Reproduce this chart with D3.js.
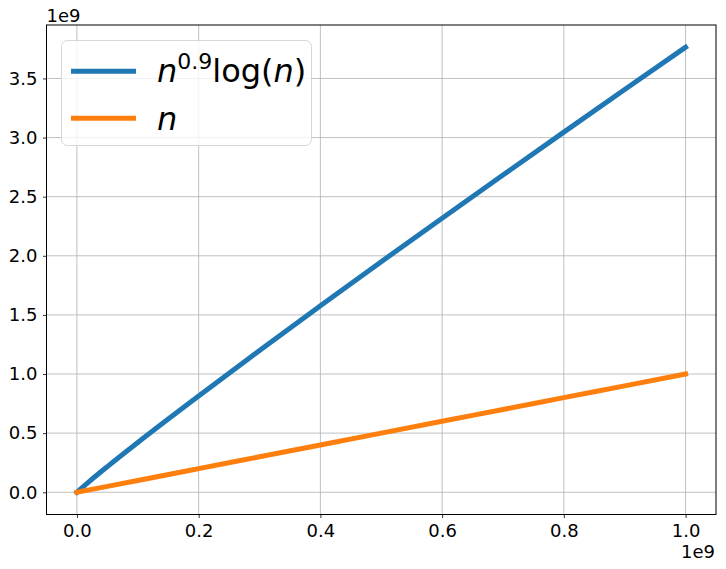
<!DOCTYPE html>
<html>
<head>
<meta charset="utf-8">
<script src="https://d3js.org/d3.v7.min.js"></script>
<style>
  body { margin: 0; background: #fff; }
  svg { font-family: "DejaVu Sans", sans-serif; }
</style>
</head>
<body>
<svg width="726" height="569"></svg>
<script>
// values (x in units of n, y in the same units)
var nValues      = [0, 0.01e9, 0.02e9, 0.05e9, 0.1e9, 0.2e9, 0.3e9, 0.4e9, 0.5e9, 0.6e9, 0.7e9, 0.8e9, 0.9e9, 1.0e9];
var nlognValues  = [0, 0.046e9, 0.090e9, 0.217e9, 0.421e9, 0.814e9, 1.200e9, 1.577e9, 1.950e9, 2.318e9, 2.683e9, 3.046e9, 3.406e9, 3.764e9];
var linearValues = [0, 0.01e9, 0.02e9, 0.05e9, 0.1e9, 0.2e9, 0.3e9, 0.4e9, 0.5e9, 0.6e9, 0.7e9, 0.8e9, 0.9e9, 1.0e9];

var xTicks = [0, 0.2e9, 0.4e9, 0.6e9, 0.8e9, 1.0e9];
var yTicks = [0, 0.5e9, 1.0e9, 1.5e9, 2.0e9, 2.5e9, 3.0e9, 3.5e9];

var seriesNames  = ["nlogn", "n"];
var seriesColors = ["#1f77b4", "#ff7f0e"];

var plotLeft = 46.5, plotRight = 716, plotTop = 25, plotBottom = 514.5;

var svg = d3.select("svg");

// matplotlib style 5% margins
var xMax = d3.max(nValues), yMax = d3.max(nlognValues);
var x = d3.scaleLinear().domain([-0.05 * xMax, 1.05 * xMax]).range([plotLeft, plotRight]);
var y = d3.scaleLinear().domain([-0.05 * yMax, 1.05 * yMax]).range([plotBottom, plotTop]);

// grid
var grid = svg.append("g").attr("stroke", "#b0b0b0").attr("stroke-width", 0.8);
grid.selectAll(".gx").data(xTicks).enter().append("line")
  .attr("x1", function(d) { return x(d); }).attr("x2", function(d) { return x(d); })
  .attr("y1", plotTop).attr("y2", plotBottom);
grid.selectAll(".gy").data(yTicks).enter().append("line")
  .attr("y1", function(d) { return y(d); }).attr("y2", function(d) { return y(d); })
  .attr("x1", plotLeft).attr("x2", plotRight);

// data lines
var line = d3.line()
  .x(function(d) { return x(d[0]); })
  .y(function(d) { return y(d[1]); })
  .curve(d3.curveMonotoneX);

var seriesData = [d3.zip(nValues, nlognValues), d3.zip(nValues, linearValues)];
svg.append("g").selectAll("path").data(seriesData).enter().append("path")
  .attr("d", line)
  .attr("fill", "none")
  .attr("stroke", function(d, i) { return seriesColors[i]; })
  .attr("stroke-width", 5)
  .attr("stroke-linecap", "square")
  .attr("stroke-linejoin", "round");

// axes
var fmt = d3.format(".1f");
var xAxis = svg.append("g").attr("transform", "translate(0," + plotBottom + ")")
  .call(d3.axisBottom(x).tickValues(xTicks).tickFormat(function(d) { return fmt(d / 1e9); })
        .tickSize(3.5).tickPadding(6).tickSizeOuter(0));
var yAxis = svg.append("g").attr("transform", "translate(" + plotLeft + ",0)")
  .call(d3.axisLeft(y).tickValues(yTicks).tickFormat(function(d) { return fmt(d / 1e9); })
        .tickSize(3.5).tickPadding(5.5).tickSizeOuter(0));
[xAxis, yAxis].forEach(function(a) {
  a.attr("font-size", 18).attr("font-family", "DejaVu Sans, sans-serif");
  a.select(".domain").remove();
  a.selectAll(".tick line").attr("stroke", "#000").attr("stroke-width", 0.8);
  a.selectAll(".tick text").attr("fill", "#000");
});

// spines
svg.append("rect").attr("x", plotLeft).attr("y", plotTop)
  .attr("width", plotRight - plotLeft).attr("height", plotBottom - plotTop)
  .attr("fill", "none").attr("stroke", "#000").attr("stroke-width", 1);

// offset texts
svg.append("text").attr("x", plotLeft).attr("y", 22).attr("font-size", 18).text("1e9");
svg.append("text").attr("x", plotRight - 1).attr("y", 558).attr("font-size", 18)
  .attr("text-anchor", "end").text("1e9");

// legend
var lg = svg.append("g");
lg.append("rect").attr("x", 61.5).attr("y", 40.5).attr("width", 250).attr("height", 105)
  .attr("rx", 6).attr("fill", "#fff").attr("fill-opacity", 0.8)
  .attr("stroke", "#d6d6d6").attr("stroke-width", 1);
var rows = [71.3, 118.3];
seriesNames.forEach(function(name, i) {
  lg.append("line").attr("x1", 71).attr("x2", 136).attr("y1", rows[i]).attr("y2", rows[i])
    .attr("stroke", seriesColors[i]).attr("stroke-width", 5);
});
var t1 = lg.append("text").attr("x", 157).attr("y", 82).attr("font-size", 32);
t1.append("tspan").attr("font-style", "italic").text("n");
t1.append("tspan").attr("font-size", 22).attr("dy", -13).text("0.9");
t1.append("tspan").attr("dy", 13).text("log(");
t1.append("tspan").attr("font-style", "italic").text("n");
t1.append("tspan").text(")");
var t2 = lg.append("text").attr("x", 157).attr("y", 129.5).attr("font-size", 32);
t2.append("tspan").attr("font-style", "italic").text("n");
</script>
</body>
</html>
